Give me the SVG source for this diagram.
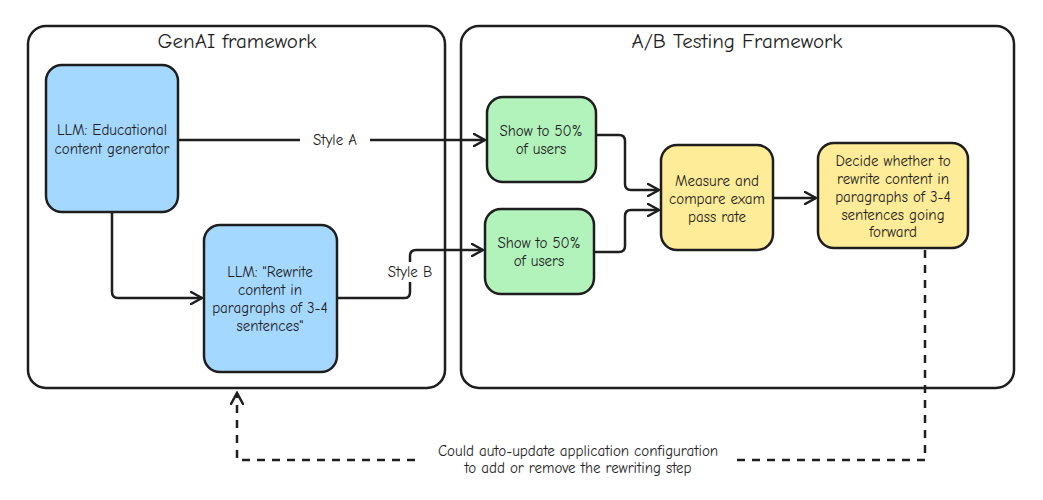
<svg xmlns="http://www.w3.org/2000/svg" width="1043" height="500" viewBox="0 0 1043 500">
<style>
text{font-family:"Comic Neue","Liberation Sans",sans-serif;fill:#1e1e1e;text-anchor:middle;font-size:15px}
.t{font-size:21px}
.f{fill:none;stroke:#1e1e1e;stroke-width:2.5}
.n{stroke:#1e1e1e;stroke-width:2.5}
.c{fill:none;stroke:#1e1e1e;stroke-width:2.5;stroke-linejoin:round}
</style>
<defs><marker id="a" markerWidth="14" markerHeight="14" refX="12" refY="7" orient="auto" markerUnits="userSpaceOnUse"><path d="M1,1 L12,7 L1,13" fill="none" stroke="#1e1e1e" stroke-width="2.5" stroke-linecap="round"/></marker></defs>
<rect width="1043" height="500" fill="#fff"/>
<g id="genai"><rect class="f" x="28" y="26" width="417" height="362" rx="18"/><text class="t" x="237" y="48">GenAI framework</text></g>
<g id="ab"><rect class="f" x="461" y="26" width="553" height="362" rx="18"/><text class="t" x="737" y="48">A/B Testing Framework</text></g>
<g id="connectors">
<path class="c" d="M178,140 H300 M370,140 H485" marker-end="url(#a)"/>
<path class="c" d="M337,298 H405 Q410,298 410,292 V256 Q410,250 416,250 H483" marker-end="url(#a)"/>
<path class="c" d="M112,212 V292 Q112,298 118,298 H202" marker-end="url(#a)"/>
<path class="c" d="M596,135 H619 Q625,135 625,141 V184 Q625,190 631,190 H659" marker-end="url(#a)"/>
<path class="c" d="M594,252 H619 Q625,252 625,246 V216 Q625,210 631,210 H659" marker-end="url(#a)"/>
<path class="c" d="M773,198 H816" marker-end="url(#a)"/>
<path class="c" d="M925,250 V460 H237 V393" stroke-dasharray="8,7" marker-end="url(#a)"/>
<rect x="303" y="130" width="64" height="20" fill="#fff"/>
<text x="335" y="145">Style A</text>
<rect x="386" y="262" width="48" height="20" fill="#fff"/>
<text x="410" y="277">Style B</text>
<rect x="422" y="440" width="312" height="36" fill="#fff"/>
<text x="578" y="456">Could auto-update application configuration</text>
<text x="578" y="473">to add or remove the rewriting step</text>
</g>
<g id="llm1"><rect class="n" x="46" y="65" width="132" height="147" rx="16" fill="#a5d8ff"/><text x="112" y="135">LLM: Educational</text><text x="112" y="154">content generator</text></g>
<g id="llm2"><rect class="n" x="204" y="225" width="133" height="147" rx="16" fill="#a5d8ff"/><text x="270" y="277">LLM: "Rewrite</text><text x="270" y="295">content in</text><text x="270" y="313">paragraphs of 3-4</text><text x="270" y="331">sentences"</text></g>
<g id="show1"><rect class="n" x="487" y="97" width="109" height="85" rx="16" fill="#b2f2bb"/><text x="541" y="136">Show to 50%</text><text x="541" y="154">of users</text></g>
<g id="show2"><rect class="n" x="485" y="209" width="109" height="85" rx="16" fill="#b2f2bb"/><text x="539" y="248">Show to 50%</text><text x="539" y="266">of users</text></g>
<g id="measure"><rect class="n" x="661" y="145" width="112" height="105" rx="16" fill="#ffec99"/><text x="717" y="186">Measure and</text><text x="717" y="204">compare exam</text><text x="717" y="222">pass rate</text></g>
<g id="decide"><rect class="n" x="818" y="143" width="150" height="105" rx="16" fill="#ffec99"/><text x="893" y="166">Decide whether to</text><text x="893" y="184">rewrite content in</text><text x="893" y="202">paragraphs of 3-4</text><text x="893" y="220">sentences going</text><text x="893" y="237">forward</text></g>
</svg>
